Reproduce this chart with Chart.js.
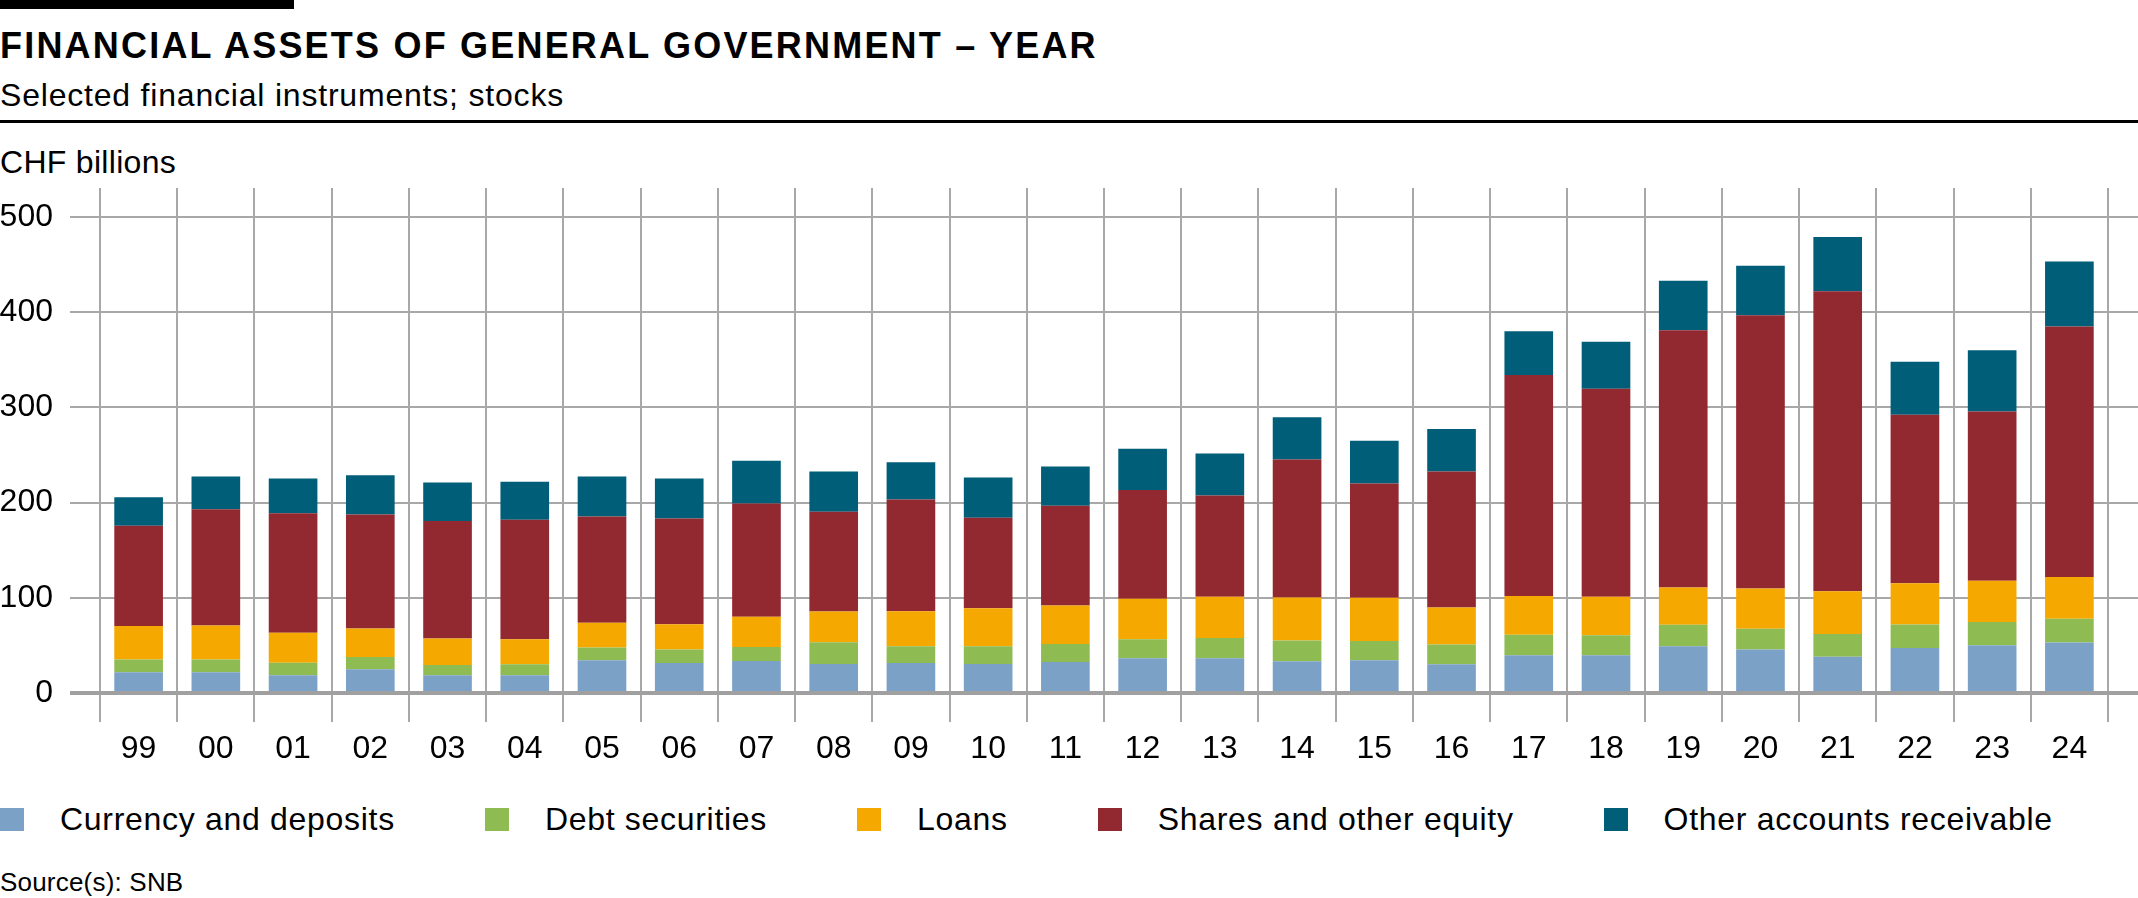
<!DOCTYPE html>
<html lang="en">
<head>
<meta charset="utf-8">
<title>Financial assets of general government – year</title>
<script src="https://cdn.jsdelivr.net/npm/chart.js@4.4.1/dist/chart.umd.min.js"></script>
<style>
  html, body { margin: 0; padding: 0; background: #fff; }
  body { width: 2138px; height: 898px; position: relative; overflow: hidden; font-family: "Liberation Sans", Arial, sans-serif; color: #000; }
  .topbar { position: absolute; left: 0; top: 0; width: 294px; height: 9px; background: #000; }
  .title { position: absolute; left: 0; top: 28px; font-size: 36px; line-height: 1; font-weight: bold; letter-spacing: 2.2px; white-space: nowrap; }
  .subtitle { position: absolute; left: 0; top: 79px; font-size: 32px; line-height: 1; letter-spacing: 0.8px; white-space: nowrap; }
  .rule { position: absolute; left: 0; top: 120px; width: 2138px; height: 3px; background: #000; }
  .unit { position: absolute; left: 0; top: 146px; font-size: 32px; line-height: 1; letter-spacing: 0.3px; white-space: nowrap; }
  .chart-box { position: absolute; left: 0; top: 0; width: 2138px; height: 780px; }
  #legend { position: absolute; left: 0; top: 803px; display: flex; gap: 90px; font-size: 32px; line-height: 1; letter-spacing: 0.7px; white-space: nowrap; }
  #legend .item { display: flex; align-items: flex-start; }
  #legend .swatch { width: 24px; height: 23px; margin-top: 5px; margin-right: 36px; }
  .source { position: absolute; left: 0; top: 869px; font-size: 26px; line-height: 1; letter-spacing: 0.2px; white-space: nowrap; }
</style>
</head>
<body>
  <div class="topbar"></div>
  <div class="title">FINANCIAL ASSETS OF GENERAL GOVERNMENT – YEAR</div>
  <div class="subtitle">Selected financial instruments; stocks</div>
  <div class="rule"></div>
  <div class="unit">CHF billions</div>
  <div class="chart-box"><canvas id="assetsChart"></canvas></div>
  <div id="legend"></div>
  <div class="source">Source(s): SNB</div>

<script>
// 1. Data (CHF billions)
const years = ["99", "00", "01", "02", "03", "04", "05", "06", "07", "08", "09", "10", "11",
               "12", "13", "14", "15", "16", "17", "18", "19", "20", "21", "22", "23", "24"];

const currencyDeposits = [21.8, 21.8, 18.6, 24.9, 18.6, 18.6, 34.4, 31.6, 33.7, 30.5, 31.6, 30.5, 32.6,
                          36.5, 36.5, 33.3, 34.4, 30.2, 39.6, 39.6, 49.1, 45.6, 38.2, 47.4, 50.2, 53.0];
const debtSecurities = [13.3, 13.3, 13.3, 13.0, 10.9, 11.6, 13.3, 14.0, 14.7, 22.8, 17.5, 18.6, 19.0,
                        20.0, 21.4, 21.8, 20.3, 20.7, 21.5, 21.1, 22.5, 21.8, 23.9, 24.5, 24.5, 24.9];
const loans = [35.4, 35.8, 31.3, 29.8, 27.7, 26.3, 26.0, 26.7, 31.6, 32.3, 36.9, 40.0, 40.3,
               42.4, 43.1, 45.3, 45.3, 38.9, 40.7, 40.3, 39.3, 42.4, 44.9, 43.5, 43.2, 43.9];
const sharesEquity = [105.3, 122.1, 125.6, 119.7, 123.5, 125.6, 111.6, 110.9, 119.0, 104.9, 117.2, 95.1, 104.9,
                      114.4, 106.4, 144.9, 120.0, 142.8, 232.2, 218.6, 270.1, 287.0, 315.1, 176.9, 177.9, 263.1];
const otherReceivable = [29.8, 34.4, 36.5, 41.4, 40.3, 39.7, 42.1, 42.1, 44.9, 42.1, 39.3, 42.1, 41.1,
                         43.2, 44.2, 44.5, 44.9, 44.6, 46.0, 49.4, 52.0, 52.0, 56.9, 55.8, 64.2, 68.4];

const seriesNames = ["Currency and deposits", "Debt securities", "Loans", "Shares and other equity", "Other accounts receivable"];
const seriesColors = ["#7ba2c6", "#8fbb53", "#f5a800", "#922931", "#005e79"];
const yTicks = [0, 100, 200, 300, 400, 500];

// 2. Style constants
const FONT = "'Liberation Sans', Arial, sans-serif";
const GRID_COLOR = "#a8a8a8";
const ZERO_COLOR = "#a0a0a0";
const Y_MAX = 530.5; // leaves room above the 500 line for the vertical grid

function gridWidth(ctx) {
  return ctx.tick && ctx.tick.value === 0 ? 4 : 2;
}
function gridColor(ctx) {
  return ctx.tick && ctx.tick.value === 0 ? ZERO_COLOR : GRID_COLOR;
}
function keepTicks(scale) {
  scale.ticks = yTicks.map(v => ({ value: v }));
}

// 3. Legend (HTML)
function renderLegend() {
  const box = document.getElementById('legend');
  seriesNames.forEach((name, i) => {
    const item = document.createElement('div');
    item.className = 'item';
    item.innerHTML = `<span class="swatch" style="background:${seriesColors[i]}"></span><span>${name}</span>`;
    box.appendChild(item);
  });
}

// 4. Chart.js stacked bars
function initChart() {
  const ctx = document.getElementById('assetsChart').getContext('2d');
  const values = [currencyDeposits, debtSecurities, loans, sharesEquity, otherReceivable];

  new Chart(ctx, {
    type: 'bar',
    data: {
      labels: years,
      datasets: values.map((data, i) => ({
        label: seriesNames[i],
        data: data,
        backgroundColor: seriesColors[i],
        borderWidth: 0,
        categoryPercentage: 1,
        barPercentage: 0.63
      }))
    },
    options: {
      responsive: true,
      maintainAspectRatio: false,
      animation: false,
      devicePixelRatio: 1,
      layout: { padding: { top: 188, left: 0, right: 0, bottom: 0 } },
      plugins: { legend: { display: false }, tooltip: { enabled: false }, title: { display: false } },
      scales: {
        x: {
          stacked: true,
          border: { display: false },
          grid: { offset: true, color: GRID_COLOR, lineWidth: 2, drawTicks: true, tickLength: 29 },
          ticks: { color: '#000', padding: 8, maxRotation: 0, autoSkip: false, font: { family: FONT, size: 32 } },
          afterFit: scale => { scale.height = 87; }
        },
        y: {
          stacked: true,
          min: 0,
          max: Y_MAX,
          border: { display: false },
          afterBuildTicks: keepTicks,
          grid: { color: gridColor, lineWidth: gridWidth, drawTicks: true, tickLength: 30 },
          ticks: { color: '#000', padding: 17, font: { family: FONT, size: 32 } },
          afterFit: scale => { scale.width = 100; }
        },
        y2: {
          position: 'right',
          min: 0,
          max: Y_MAX,
          border: { display: false },
          afterBuildTicks: keepTicks,
          grid: { color: gridColor, lineWidth: gridWidth, drawOnChartArea: false, drawTicks: true, tickLength: 30 },
          ticks: { display: false },
          afterFit: scale => { scale.width = 30; }
        }
      }
    }
  });
}

// 5. Init
document.addEventListener("DOMContentLoaded", () => {
  renderLegend();
  initChart();
});
</script>
</body>
</html>
